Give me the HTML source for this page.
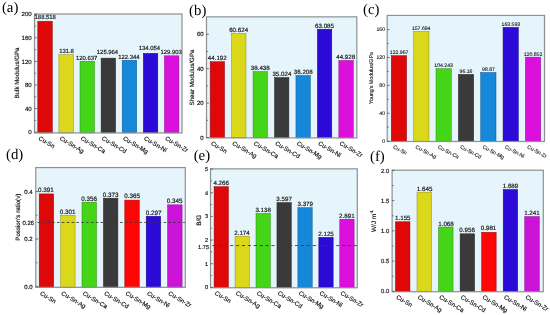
<!DOCTYPE html>
<html><head><meta charset="utf-8"><style>
html,body{margin:0;padding:0;background:#fff;}
svg{display:block;will-change:transform;}
text{text-rendering:geometricPrecision;font-family:"Liberation Sans",sans-serif;fill:#111;stroke:#111;stroke-width:0.16;}
.thin text{stroke-width:0.1;}
text.serif{font-family:"Liberation Serif",serif;fill:#000;stroke:none;}
</style></head><body>
<svg width="550" height="315" viewBox="0 0 550 315">
<rect width="550" height="315" fill="#fff"/>
<g class="">
<rect x="34.5" y="14.02" width="147.50" height="118.89" fill="#e6f5fc"/>
<rect x="37.80" y="21.29" width="14.5" height="111.62" fill="#de0808" stroke="#900505" stroke-width="0.5"/>
<rect x="58.90" y="54.70" width="14.5" height="78.21" fill="#dbd71a" stroke="#8e8b10" stroke-width="0.5"/>
<rect x="80.00" y="61.28" width="14.5" height="71.63" fill="#44d418" stroke="#2c890f" stroke-width="0.5"/>
<rect x="101.10" y="58.14" width="14.5" height="74.77" fill="#3a3a3a" stroke="#252525" stroke-width="0.5"/>
<rect x="122.20" y="60.27" width="14.5" height="72.64" fill="#1588da" stroke="#0d588d" stroke-width="0.5"/>
<rect x="143.30" y="53.38" width="14.5" height="79.53" fill="#2b0ad8" stroke="#1b068c" stroke-width="0.5"/>
<rect x="164.40" y="55.82" width="14.5" height="77.09" fill="#dc10dc" stroke="#8f0a8f" stroke-width="0.5"/>
<rect x="34.5" y="14.02" width="147.50" height="118.89" fill="none" stroke="#8c9192" stroke-width="1.2"/>
<line x1="34.5" y1="132.11" x2="36.8" y2="132.11" stroke="#4a4d50" stroke-width="0.8"/>
<text x="31.70" y="134.31" font-size="6.1" text-anchor="end">0</text>
<line x1="34.5" y1="108.54" x2="36.8" y2="108.54" stroke="#4a4d50" stroke-width="0.8"/>
<text x="31.70" y="110.74" font-size="6.1" text-anchor="end">40</text>
<line x1="34.5" y1="84.97" x2="36.8" y2="84.97" stroke="#4a4d50" stroke-width="0.8"/>
<text x="31.70" y="87.17" font-size="6.1" text-anchor="end">80</text>
<line x1="34.5" y1="61.41" x2="36.8" y2="61.41" stroke="#4a4d50" stroke-width="0.8"/>
<text x="31.70" y="63.60" font-size="6.1" text-anchor="end">120</text>
<line x1="34.5" y1="37.84" x2="36.8" y2="37.84" stroke="#4a4d50" stroke-width="0.8"/>
<text x="31.70" y="40.03" font-size="6.1" text-anchor="end">160</text>
<line x1="34.5" y1="14.27" x2="36.8" y2="14.27" stroke="#4a4d50" stroke-width="0.8"/>
<text x="31.70" y="16.47" font-size="6.1" text-anchor="end">200</text>
<line x1="34.5" y1="120.33" x2="36.1" y2="120.33" stroke="#4a4d50" stroke-width="0.7"/>
<line x1="34.5" y1="96.76" x2="36.1" y2="96.76" stroke="#4a4d50" stroke-width="0.7"/>
<line x1="34.5" y1="73.19" x2="36.1" y2="73.19" stroke="#4a4d50" stroke-width="0.7"/>
<line x1="34.5" y1="49.62" x2="36.1" y2="49.62" stroke="#4a4d50" stroke-width="0.7"/>
<line x1="34.5" y1="26.05" x2="36.1" y2="26.05" stroke="#4a4d50" stroke-width="0.7"/>
<text x="45.25" y="19.45" font-size="5.9" text-anchor="middle">188.518</text>
<text x="66.50" y="53.15" font-size="5.9" text-anchor="middle">131.8</text>
<text x="86.60" y="59.85" font-size="5.9" text-anchor="middle">120.637</text>
<text x="107.50" y="54.05" font-size="5.9" text-anchor="middle">125.964</text>
<text x="128.85" y="58.55" font-size="5.9" text-anchor="middle">122.344</text>
<text x="149.35" y="49.55" font-size="5.9" text-anchor="middle">134.054</text>
<text x="171.10" y="54.25" font-size="5.9" text-anchor="middle">129.903</text>
<text transform="translate(38.05,139.41) rotate(31)" font-size="6.2">Cu-Sn</text>
<text transform="translate(59.15,139.41) rotate(31)" font-size="6.2">Cu-Sn-Ag</text>
<text transform="translate(80.25,139.41) rotate(31)" font-size="6.2">Cu-Sn-Ca</text>
<text transform="translate(101.35,139.41) rotate(31)" font-size="6.2">Cu-Sn-Cd</text>
<text transform="translate(122.45,139.41) rotate(31)" font-size="6.2">Cu-Sn-Mg</text>
<text transform="translate(143.55,139.41) rotate(31)" font-size="6.2">Cu-Sn-Ni</text>
<text transform="translate(164.65,139.41) rotate(31)" font-size="6.2">Cu-Sn-Zr</text>
<text transform="translate(18.8,73.0) rotate(-90)" font-size="6.2" text-anchor="middle" textLength="51" lengthAdjust="spacingAndGlyphs">Bulk Modulus/GPa</text>
<text x="1.9" y="12.1" class="serif" font-size="14.8">(a)</text>
</g>
<g class="">
<rect x="206.5" y="16.86" width="150.30" height="121.02" fill="#e6f5fc"/>
<rect x="210.15" y="61.74" width="14.4" height="76.14" fill="#de0808" stroke="#900505" stroke-width="0.5"/>
<rect x="231.60" y="33.49" width="14.4" height="104.39" fill="#dbd71a" stroke="#8e8b10" stroke-width="0.5"/>
<rect x="253.05" y="71.64" width="14.4" height="66.24" fill="#44d418" stroke="#2c890f" stroke-width="0.5"/>
<rect x="274.50" y="77.51" width="14.4" height="60.37" fill="#3a3a3a" stroke="#252525" stroke-width="0.5"/>
<rect x="295.95" y="75.47" width="14.4" height="62.41" fill="#1588da" stroke="#0d588d" stroke-width="0.5"/>
<rect x="317.40" y="29.26" width="14.4" height="108.62" fill="#2b0ad8" stroke="#1b068c" stroke-width="0.5"/>
<rect x="338.85" y="60.48" width="14.4" height="77.40" fill="#dc10dc" stroke="#8f0a8f" stroke-width="0.5"/>
<rect x="206.5" y="16.86" width="150.30" height="121.02" fill="none" stroke="#8c9192" stroke-width="1.2"/>
<line x1="206.5" y1="137.48" x2="208.8" y2="137.48" stroke="#4a4d50" stroke-width="0.8"/>
<text x="203.70" y="139.64" font-size="6.0" text-anchor="end">0</text>
<line x1="206.5" y1="103.09" x2="208.8" y2="103.09" stroke="#4a4d50" stroke-width="0.8"/>
<text x="203.70" y="105.25" font-size="6.0" text-anchor="end">20</text>
<line x1="206.5" y1="68.70" x2="208.8" y2="68.70" stroke="#4a4d50" stroke-width="0.8"/>
<text x="203.70" y="70.86" font-size="6.0" text-anchor="end">40</text>
<line x1="206.5" y1="34.31" x2="208.8" y2="34.31" stroke="#4a4d50" stroke-width="0.8"/>
<text x="203.70" y="36.47" font-size="6.0" text-anchor="end">60</text>
<line x1="206.5" y1="120.28" x2="208.1" y2="120.28" stroke="#4a4d50" stroke-width="0.7"/>
<line x1="206.5" y1="85.89" x2="208.1" y2="85.89" stroke="#4a4d50" stroke-width="0.7"/>
<line x1="206.5" y1="51.50" x2="208.1" y2="51.50" stroke="#4a4d50" stroke-width="0.7"/>
<text x="217.25" y="60.05" font-size="6.2" text-anchor="middle">44.192</text>
<text x="238.65" y="31.65" font-size="6.2" text-anchor="middle">60.624</text>
<text x="260.25" y="70.15" font-size="6.2" text-anchor="middle">38.438</text>
<text x="281.90" y="75.75" font-size="6.2" text-anchor="middle">35.024</text>
<text x="303.30" y="74.05" font-size="6.2" text-anchor="middle">36.208</text>
<text x="324.50" y="27.75" font-size="6.2" text-anchor="middle">63.085</text>
<text x="345.70" y="58.65" font-size="6.2" text-anchor="middle">44.928</text>
<text transform="translate(210.40,144.38) rotate(31)" font-size="6.2">Cu-Sn</text>
<text transform="translate(231.85,144.38) rotate(31)" font-size="6.2">Cu-Sn-Ag</text>
<text transform="translate(253.30,144.38) rotate(31)" font-size="6.2">Cu-Sn-Ca</text>
<text transform="translate(274.75,144.38) rotate(31)" font-size="6.2">Cu-Sn-Cd</text>
<text transform="translate(296.20,144.38) rotate(31)" font-size="6.2">Cu-Sn-Mg</text>
<text transform="translate(317.65,144.38) rotate(31)" font-size="6.2">Cu-Sn-Ni</text>
<text transform="translate(339.10,144.38) rotate(31)" font-size="6.2">Cu-Sn-Zr</text>
<text transform="translate(194.0,77.5) rotate(-90)" font-size="6.2" text-anchor="middle" textLength="56" lengthAdjust="spacingAndGlyphs">Shear Modulus/GPa</text>
<text x="189.1" y="15.2" class="serif" font-size="14.8">(b)</text>
</g>
<g class="thin">
<rect x="387.2" y="15.44" width="157.30" height="126.07" fill="#e6f5fc"/>
<rect x="391.30" y="55.68" width="15.3" height="85.83" fill="#de0808" stroke="#900505" stroke-width="0.5"/>
<rect x="413.65" y="31.48" width="15.3" height="110.03" fill="#dbd71a" stroke="#8e8b10" stroke-width="0.5"/>
<rect x="436.00" y="68.72" width="15.3" height="72.79" fill="#44d418" stroke="#2c890f" stroke-width="0.5"/>
<rect x="458.35" y="74.36" width="15.3" height="67.15" fill="#3a3a3a" stroke="#252525" stroke-width="0.5"/>
<rect x="480.70" y="72.47" width="15.3" height="69.04" fill="#1588da" stroke="#0d588d" stroke-width="0.5"/>
<rect x="503.05" y="27.37" width="15.3" height="114.14" fill="#2b0ad8" stroke="#1b068c" stroke-width="0.5"/>
<rect x="525.40" y="57.15" width="15.3" height="84.36" fill="#dc10dc" stroke="#8f0a8f" stroke-width="0.5"/>
<rect x="387.2" y="15.44" width="157.30" height="126.07" fill="none" stroke="#8c9192" stroke-width="1.2"/>
<line x1="387.2" y1="141.11" x2="389.5" y2="141.11" stroke="#4a4d50" stroke-width="0.8"/>
<text x="385.10" y="142.98" font-size="5.2" text-anchor="end">0</text>
<line x1="387.2" y1="113.24" x2="389.5" y2="113.24" stroke="#4a4d50" stroke-width="0.8"/>
<text x="385.10" y="115.11" font-size="5.2" text-anchor="end">40</text>
<line x1="387.2" y1="85.37" x2="389.5" y2="85.37" stroke="#4a4d50" stroke-width="0.8"/>
<text x="385.10" y="87.24" font-size="5.2" text-anchor="end">80</text>
<line x1="387.2" y1="57.49" x2="389.5" y2="57.49" stroke="#4a4d50" stroke-width="0.8"/>
<text x="385.10" y="59.37" font-size="5.2" text-anchor="end">120</text>
<line x1="387.2" y1="29.62" x2="389.5" y2="29.62" stroke="#4a4d50" stroke-width="0.8"/>
<text x="385.10" y="31.49" font-size="5.2" text-anchor="end">160</text>
<line x1="387.2" y1="127.17" x2="388.8" y2="127.17" stroke="#4a4d50" stroke-width="0.7"/>
<line x1="387.2" y1="99.30" x2="388.8" y2="99.30" stroke="#4a4d50" stroke-width="0.7"/>
<line x1="387.2" y1="71.43" x2="388.8" y2="71.43" stroke="#4a4d50" stroke-width="0.7"/>
<line x1="387.2" y1="43.56" x2="388.8" y2="43.56" stroke="#4a4d50" stroke-width="0.7"/>
<text x="399.15" y="53.85" font-size="5.15" text-anchor="middle">122.967</text>
<text x="421.20" y="30.05" font-size="5.15" text-anchor="middle">157.694</text>
<text x="443.65" y="67.35" font-size="5.15" text-anchor="middle">104.243</text>
<text x="466.00" y="72.95" font-size="5.15" text-anchor="middle">96.16</text>
<text x="488.50" y="71.15" font-size="5.15" text-anchor="middle">98.87</text>
<text x="510.90" y="25.55" font-size="5.15" text-anchor="middle">163.593</text>
<text x="533.00" y="55.85" font-size="5.15" text-anchor="middle">120.852</text>
<text transform="translate(392.75,148.01) rotate(28)" font-size="5.2">Cu-Sn</text>
<text transform="translate(415.10,148.01) rotate(28)" font-size="5.2">Cu-Sn-Ag</text>
<text transform="translate(437.45,148.01) rotate(28)" font-size="5.2">Cu-Sn-Ca</text>
<text transform="translate(459.80,148.01) rotate(28)" font-size="5.2">Cu-Sn-Cd</text>
<text transform="translate(482.15,148.01) rotate(28)" font-size="5.2">Cu-Sn-Mg</text>
<text transform="translate(504.50,148.01) rotate(28)" font-size="5.2">Cu-Sn-Ni</text>
<text transform="translate(526.85,148.01) rotate(28)" font-size="5.2">Cu-Sn-Zr</text>
<text transform="translate(373.3,78.1) rotate(-90)" font-size="5.4" text-anchor="middle" textLength="52" lengthAdjust="spacingAndGlyphs">Young&#39;s Modulus/GPa</text>
<text x="363.1" y="14.0" class="serif" font-size="14.8">(c)</text>
</g>
<g class="">
<rect x="35.8" y="167.57" width="149.50" height="119.77" fill="#e6f5fc"/>
<rect x="39.20" y="193.93" width="14.5" height="93.41" fill="#de0808" stroke="#900505" stroke-width="0.5"/>
<rect x="60.60" y="215.28" width="14.5" height="72.06" fill="#dbd71a" stroke="#8e8b10" stroke-width="0.5"/>
<rect x="82.00" y="202.23" width="14.5" height="85.11" fill="#44d418" stroke="#2c890f" stroke-width="0.5"/>
<rect x="103.40" y="198.20" width="14.5" height="89.14" fill="#3a3a3a" stroke="#252525" stroke-width="0.5"/>
<rect x="124.80" y="200.10" width="14.5" height="87.24" fill="#fc0606" stroke="#a30303" stroke-width="0.5"/>
<rect x="146.20" y="216.23" width="14.5" height="71.11" fill="#2b0ad8" stroke="#1b068c" stroke-width="0.5"/>
<rect x="167.60" y="204.84" width="14.5" height="82.50" fill="#cc14d8" stroke="#840d8c" stroke-width="0.5"/>
<line x1="35.8" y1="222.45" x2="185.3" y2="222.45" stroke="#3a3a3a" stroke-width="0.9" stroke-dasharray="2.5 2.35" stroke-dashoffset="3.05"/>
<rect x="35.8" y="167.57" width="149.50" height="119.77" fill="none" stroke="#8c9192" stroke-width="1.2"/>
<line x1="35.8" y1="286.44" x2="38.099999999999994" y2="286.44" stroke="#4a4d50" stroke-width="0.8"/>
<text x="32.60" y="288.60" font-size="6.0" text-anchor="end">0.0</text>
<line x1="35.8" y1="238.99" x2="38.099999999999994" y2="238.99" stroke="#4a4d50" stroke-width="0.8"/>
<text x="32.60" y="241.15" font-size="6.0" text-anchor="end">0.2</text>
<line x1="35.8" y1="191.55" x2="38.099999999999994" y2="191.55" stroke="#4a4d50" stroke-width="0.8"/>
<text x="32.60" y="193.71" font-size="6.0" text-anchor="end">0.4</text>
<line x1="35.8" y1="262.72" x2="37.4" y2="262.72" stroke="#4a4d50" stroke-width="0.7"/>
<line x1="35.8" y1="215.27" x2="37.4" y2="215.27" stroke="#4a4d50" stroke-width="0.7"/>
<text x="34.10" y="224.86" font-size="6.0" text-anchor="end">0.26</text>
<text x="46.00" y="191.95" font-size="6.3" text-anchor="middle">0.391</text>
<text x="67.60" y="213.85" font-size="6.3" text-anchor="middle">0.301</text>
<text x="89.10" y="201.05" font-size="6.3" text-anchor="middle">0.356</text>
<text x="110.75" y="197.15" font-size="6.3" text-anchor="middle">0.373</text>
<text x="132.05" y="198.35" font-size="6.3" text-anchor="middle">0.365</text>
<text x="153.55" y="214.65" font-size="6.3" text-anchor="middle">0.297</text>
<text x="174.65" y="203.25" font-size="6.3" text-anchor="middle">0.345</text>
<text transform="translate(39.45,294.54) rotate(31)" font-size="6.2">Cu-Sn</text>
<text transform="translate(60.85,294.54) rotate(31)" font-size="6.2">Cu-Sn-Ag</text>
<text transform="translate(82.25,294.54) rotate(31)" font-size="6.2">Cu-Sn-Ca</text>
<text transform="translate(103.65,294.54) rotate(31)" font-size="6.2">Cu-Sn-Cd</text>
<text transform="translate(125.05,294.54) rotate(31)" font-size="6.2">Cu-Sn-Mg</text>
<text transform="translate(146.45,294.54) rotate(31)" font-size="6.2">Cu-Sn-Ni</text>
<text transform="translate(167.85,294.54) rotate(31)" font-size="6.2">Cu-Sn-Zr</text>
<text transform="translate(20.2,217.2) rotate(-90)" font-size="6.2" text-anchor="middle" textLength="47" lengthAdjust="spacingAndGlyphs">Possion&#39;s ratio(v)</text>
<text x="6.0" y="158.6" class="serif" font-size="14.8">(d)</text>
</g>
<g class="">
<rect x="210.5" y="168.86" width="146.80" height="118.91" fill="#e6f5fc"/>
<rect x="214.10" y="186.72" width="14.3" height="101.05" fill="#de0808" stroke="#900505" stroke-width="0.5"/>
<rect x="235.05" y="236.20" width="14.3" height="51.57" fill="#dbd71a" stroke="#8e8b10" stroke-width="0.5"/>
<rect x="256.00" y="213.40" width="14.3" height="74.37" fill="#44d418" stroke="#2c890f" stroke-width="0.5"/>
<rect x="276.95" y="202.54" width="14.3" height="85.23" fill="#3a3a3a" stroke="#252525" stroke-width="0.5"/>
<rect x="297.90" y="207.70" width="14.3" height="80.07" fill="#1588da" stroke="#0d588d" stroke-width="0.5"/>
<rect x="318.85" y="237.36" width="14.3" height="50.41" fill="#2b0ad8" stroke="#1b068c" stroke-width="0.5"/>
<rect x="339.80" y="219.24" width="14.3" height="68.53" fill="#dc10dc" stroke="#8f0a8f" stroke-width="0.5"/>
<line x1="210.5" y1="245.55" x2="357.3" y2="245.55" stroke="#3a3a3a" stroke-width="0.9" stroke-dasharray="3.2 2.7" stroke-dashoffset="4.0"/>
<rect x="210.5" y="168.86" width="146.80" height="118.91" fill="none" stroke="#8c9192" stroke-width="1.2"/>
<line x1="210.5" y1="287.37" x2="212.8" y2="287.37" stroke="#4a4d50" stroke-width="0.8"/>
<text x="208.00" y="289.39" font-size="5.6" text-anchor="end">0</text>
<line x1="210.5" y1="263.72" x2="212.8" y2="263.72" stroke="#4a4d50" stroke-width="0.8"/>
<text x="208.00" y="265.73" font-size="5.6" text-anchor="end">1</text>
<line x1="210.5" y1="240.06" x2="212.8" y2="240.06" stroke="#4a4d50" stroke-width="0.8"/>
<text x="208.00" y="242.08" font-size="5.6" text-anchor="end">2</text>
<line x1="210.5" y1="216.41" x2="212.8" y2="216.41" stroke="#4a4d50" stroke-width="0.8"/>
<text x="208.00" y="218.43" font-size="5.6" text-anchor="end">3</text>
<line x1="210.5" y1="192.76" x2="212.8" y2="192.76" stroke="#4a4d50" stroke-width="0.8"/>
<text x="208.00" y="194.78" font-size="5.6" text-anchor="end">4</text>
<line x1="210.5" y1="169.11" x2="212.8" y2="169.11" stroke="#4a4d50" stroke-width="0.8"/>
<text x="208.00" y="171.12" font-size="5.6" text-anchor="end">5</text>
<line x1="210.5" y1="275.54" x2="212.1" y2="275.54" stroke="#4a4d50" stroke-width="0.7"/>
<line x1="210.5" y1="251.89" x2="212.1" y2="251.89" stroke="#4a4d50" stroke-width="0.7"/>
<line x1="210.5" y1="228.24" x2="212.1" y2="228.24" stroke="#4a4d50" stroke-width="0.7"/>
<line x1="210.5" y1="204.59" x2="212.1" y2="204.59" stroke="#4a4d50" stroke-width="0.7"/>
<line x1="210.5" y1="180.93" x2="212.1" y2="180.93" stroke="#4a4d50" stroke-width="0.7"/>
<text x="209.00" y="248.82" font-size="5.6" text-anchor="end">1.75</text>
<text x="221.20" y="185.05" font-size="6.2" text-anchor="middle">4.266</text>
<text x="242.00" y="234.65" font-size="6.2" text-anchor="middle">2.174</text>
<text x="263.15" y="211.55" font-size="6.2" text-anchor="middle">3.138</text>
<text x="284.10" y="200.75" font-size="6.2" text-anchor="middle">3.597</text>
<text x="305.25" y="206.05" font-size="6.2" text-anchor="middle">3.379</text>
<text x="326.05" y="235.55" font-size="6.2" text-anchor="middle">2.125</text>
<text x="346.85" y="218.05" font-size="6.2" text-anchor="middle">2.891</text>
<text transform="translate(214.35,294.27) rotate(31)" font-size="6.2">Cu-Sn</text>
<text transform="translate(235.30,294.27) rotate(31)" font-size="6.2">Cu-Sn-Ag</text>
<text transform="translate(256.25,294.27) rotate(31)" font-size="6.2">Cu-Sn-Ca</text>
<text transform="translate(277.20,294.27) rotate(31)" font-size="6.2">Cu-Sn-Cd</text>
<text transform="translate(298.15,294.27) rotate(31)" font-size="6.2">Cu-Sn-Mg</text>
<text transform="translate(319.10,294.27) rotate(31)" font-size="6.2">Cu-Sn-Ni</text>
<text transform="translate(340.05,294.27) rotate(31)" font-size="6.2">Cu-Sn-Zr</text>
<text transform="translate(201.2,220.3) rotate(-90)" font-size="6.4" text-anchor="middle" textLength="11.1" lengthAdjust="spacingAndGlyphs">B/G</text>
<text x="193.7" y="159.6" class="serif" font-size="14.8">(e)</text>
</g>
<g class="">
<rect x="392.1" y="170.19" width="151.20" height="121.54" fill="#e6f5fc"/>
<rect x="395.45" y="221.77" width="14.5" height="69.96" fill="#de0808" stroke="#900505" stroke-width="0.5"/>
<rect x="417.00" y="192.15" width="14.5" height="99.58" fill="#dbd71a" stroke="#8e8b10" stroke-width="0.5"/>
<rect x="438.55" y="227.03" width="14.5" height="64.70" fill="#44d418" stroke="#2c890f" stroke-width="0.5"/>
<rect x="460.10" y="233.80" width="14.5" height="57.93" fill="#3a3a3a" stroke="#252525" stroke-width="0.5"/>
<rect x="481.65" y="232.28" width="14.5" height="59.45" fill="#fc0606" stroke="#a30303" stroke-width="0.5"/>
<rect x="503.20" y="189.49" width="14.5" height="102.24" fill="#2b0ad8" stroke="#1b068c" stroke-width="0.5"/>
<rect x="524.75" y="216.57" width="14.5" height="75.16" fill="#cc14d8" stroke="#840d8c" stroke-width="0.5"/>
<rect x="392.1" y="170.19" width="151.20" height="121.54" fill="none" stroke="#8c9192" stroke-width="1.2"/>
<line x1="392.1" y1="291.33" x2="394.40000000000003" y2="291.33" stroke="#4a4d50" stroke-width="0.8"/>
<text x="389.20" y="293.45" font-size="5.9" text-anchor="end">0.0</text>
<line x1="392.1" y1="261.11" x2="394.40000000000003" y2="261.11" stroke="#4a4d50" stroke-width="0.8"/>
<text x="389.20" y="263.23" font-size="5.9" text-anchor="end">0.5</text>
<line x1="392.1" y1="230.89" x2="394.40000000000003" y2="230.89" stroke="#4a4d50" stroke-width="0.8"/>
<text x="389.20" y="233.01" font-size="5.9" text-anchor="end">1.0</text>
<line x1="392.1" y1="200.66" x2="394.40000000000003" y2="200.66" stroke="#4a4d50" stroke-width="0.8"/>
<text x="389.20" y="202.79" font-size="5.9" text-anchor="end">1.5</text>
<line x1="392.1" y1="170.44" x2="394.40000000000003" y2="170.44" stroke="#4a4d50" stroke-width="0.8"/>
<text x="389.20" y="172.57" font-size="5.9" text-anchor="end">2.0</text>
<line x1="392.1" y1="276.22" x2="393.70000000000005" y2="276.22" stroke="#4a4d50" stroke-width="0.7"/>
<line x1="392.1" y1="246.00" x2="393.70000000000005" y2="246.00" stroke="#4a4d50" stroke-width="0.7"/>
<line x1="392.1" y1="215.77" x2="393.70000000000005" y2="215.77" stroke="#4a4d50" stroke-width="0.7"/>
<line x1="392.1" y1="185.55" x2="393.70000000000005" y2="185.55" stroke="#4a4d50" stroke-width="0.7"/>
<text x="402.80" y="220.25" font-size="6.2" text-anchor="middle">1.155</text>
<text x="424.60" y="190.75" font-size="6.2" text-anchor="middle">1.645</text>
<text x="446.00" y="225.55" font-size="6.2" text-anchor="middle">1.068</text>
<text x="467.10" y="231.75" font-size="6.2" text-anchor="middle">0.956</text>
<text x="488.55" y="230.35" font-size="6.2" text-anchor="middle">0.981</text>
<text x="510.50" y="187.85" font-size="6.2" text-anchor="middle">1.689</text>
<text x="531.95" y="215.15" font-size="6.2" text-anchor="middle">1.241</text>
<text transform="translate(395.70,298.23) rotate(31)" font-size="6.2">Cu-Sn</text>
<text transform="translate(417.25,298.23) rotate(31)" font-size="6.2">Cu-Sn-Ag</text>
<text transform="translate(438.80,298.23) rotate(31)" font-size="6.2">Cu-Sn-Ca</text>
<text transform="translate(460.35,298.23) rotate(31)" font-size="6.2">Cu-Sn-Cd</text>
<text transform="translate(481.90,298.23) rotate(31)" font-size="6.2">Cu-Sn-Mg</text>
<text transform="translate(503.45,298.23) rotate(31)" font-size="6.2">Cu-Sn-Ni</text>
<text transform="translate(525.00,298.23) rotate(31)" font-size="6.2">Cu-Sn-Zr</text>
<text transform="translate(375.6,221.0) rotate(-90)" font-size="6.4" text-anchor="middle">W/J m<tspan font-size="4.2" dy="-3">-1</tspan></text>
<text x="370.0" y="160.8" class="serif" font-size="14.8">(f)</text>
</g>
</svg>
</body></html>
